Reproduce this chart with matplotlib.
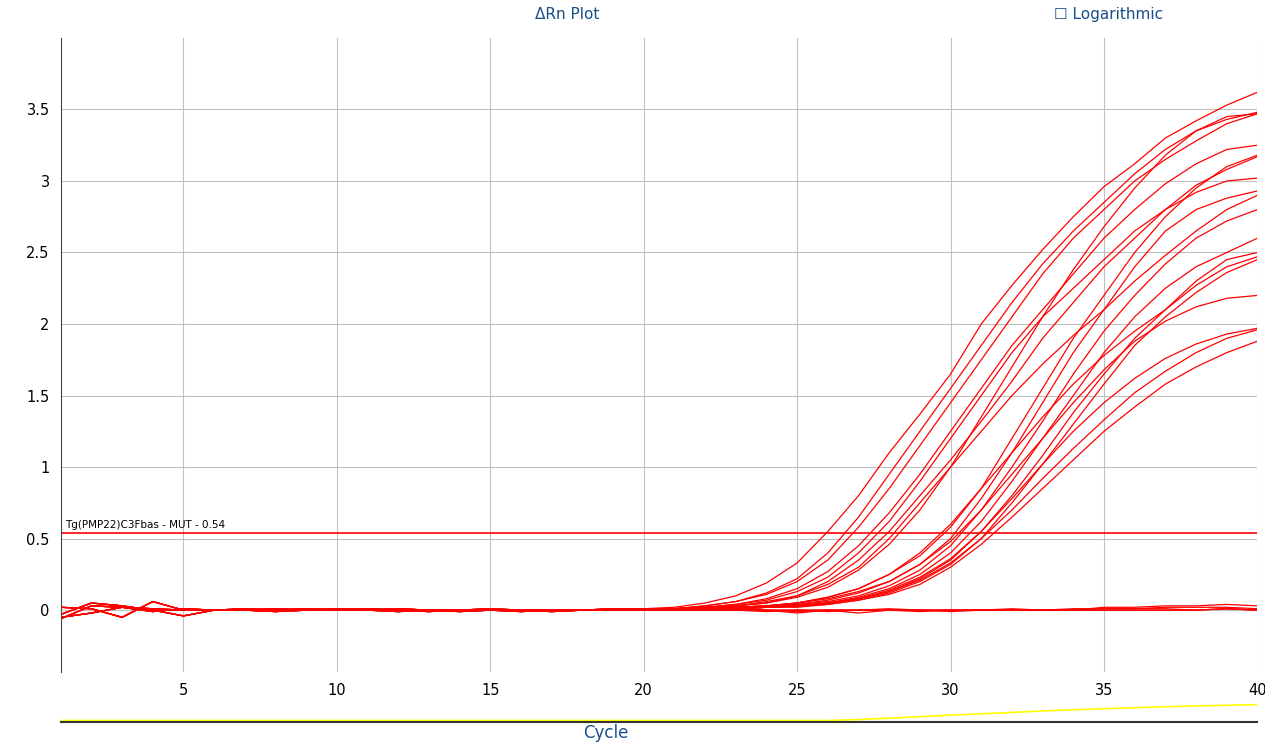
import matplotlib
matplotlib.use("Agg")
import matplotlib.pyplot as plt
import numpy as np

cycles = list(range(1, 41))
baselines = [
 [-0.05,-0.02,0.02,0.01,0.0,0.0,0.01,0.0,0.0,0.01,0.0,0.0,-0.01,0.0,0.0,0.0,-0.01,0.0,0.0,0.01],
 [-0.03,0.05,0.03,0.0,-0.04,0.0,0.0,0.01,0.0,0.0,0.01,0.0,0.0,-0.01,0.0,0.0,0.0,0.0,0.0,0.0],
 [0.02,0.01,-0.05,0.06,0.0,0.0,0.0,0.0,0.01,0.0,0.0,-0.01,0.0,0.0,0.01,0.0,0.0,0.0,0.01,0.0],
 [-0.06,0.03,0.02,-0.01,0.01,0.0,0.0,-0.01,0.0,0.0,0.0,0.01,0.0,0.0,0.0,-0.01,0.0,0.0,0.0,0.01],
]
amp_curves = [
 [.02,.05,.1,.19,.33,.55,.8,1.1,1.37,1.65,2.0,2.27,2.52,2.75,2.96,3.12,3.3,3.42,3.53,3.62],
 [.01,.03,.06,.12,.22,.4,.65,.95,1.25,1.55,1.85,2.15,2.42,2.65,2.85,3.05,3.22,3.35,3.43,3.48],
 [.01,.03,.06,.11,.2,.35,.58,.85,1.15,1.45,1.75,2.05,2.35,2.6,2.8,3.0,3.15,3.28,3.4,3.47],
 [.01,.02,.04,.08,.15,.27,.45,.68,.95,1.25,1.55,1.85,2.1,2.35,2.6,2.8,2.98,3.12,3.22,3.25],
 [.01,.02,.04,.07,.13,.23,.4,.62,.9,1.2,1.5,1.8,2.05,2.25,2.45,2.65,2.8,2.92,3.0,3.02],
 [.01,.02,.03,.06,.1,.2,.35,.55,.8,1.05,1.32,1.6,1.9,2.15,2.4,2.6,2.8,2.97,3.08,3.17],
 [.01,.02,.03,.05,.1,.18,.3,.5,.75,1.0,1.25,1.5,1.72,1.92,2.1,2.3,2.48,2.65,2.8,2.9],
 [.01,.02,.03,.05,.09,.16,.28,.46,.7,1.0,1.35,1.7,2.05,2.38,2.68,2.95,3.18,3.35,3.45,3.47],
 [0,.01,.02,.03,.05,.09,.15,.25,.38,.58,.85,1.2,1.55,1.9,2.2,2.5,2.75,2.95,3.1,3.18],
 [0,.01,.02,.03,.04,.07,.12,.2,.32,.5,.78,1.1,1.45,1.8,2.1,2.4,2.65,2.8,2.88,2.93],
 [0,.01,.01,.02,.04,.06,.1,.17,.28,.45,.7,1.0,1.32,1.65,1.95,2.2,2.42,2.6,2.72,2.80],
 [0,.01,.01,.02,.03,.05,.09,.15,.25,.4,.62,.9,1.2,1.5,1.8,2.05,2.25,2.4,2.5,2.60],
 [0,.01,.01,.02,.03,.05,.08,.13,.22,.35,.55,.8,1.08,1.38,1.65,1.9,2.1,2.27,2.4,2.47],
 [0,0,.01,.02,.03,.04,.07,.12,.2,.32,.5,.75,1.02,1.3,1.58,1.85,2.05,2.22,2.36,2.45],
 [0,.01,.02,.03,.05,.08,.13,.2,.32,.48,.7,.95,1.2,1.45,1.68,1.88,2.02,2.12,2.18,2.20],
 [0,.01,.02,.03,.05,.09,.15,.25,.4,.6,.85,1.1,1.35,1.58,1.78,1.95,2.1,2.3,2.45,2.50],
 [0,.01,.01,.02,.03,.05,.08,.14,.23,.36,.55,.78,1.02,1.25,1.45,1.62,1.76,1.86,1.93,1.97],
 [0,0,.01,.02,.03,.05,.08,.13,.21,.33,.5,.7,.92,1.13,1.33,1.52,1.67,1.8,1.9,1.96],
 [0,0,.01,.02,.02,.04,.07,.11,.18,.3,.46,.65,.85,1.05,1.25,1.42,1.58,1.7,1.8,1.88],
]
flat_curves = [
 [0,0,0.01,0,-0.01,0,0,0.01,0,0,0,0.01,0,0,0.02,0.02,0.03,0.03,0.04,0.03],
 [0,0,0,-0.01,0,0,-0.02,0,-0.01,0,0,0,0,0,0.01,0.01,0.02,0.02,0.02,0.01],
 [0,0.01,0,0,-0.02,0,0,0,0,0,0,0,0,0.01,0.01,0.01,0.01,0,0.01,0],
 [0,0,0,0,0,-0.01,0,0,0,-0.01,0,0,0,0,0,0,0,0,0.01,0],
 [0,0,0,0,0,0,0,0,0,0,0,0,0,0,0,0,0,0,0.01,0],
]
slider_curve = [0]*26 + [0.05, 0.12, 0.2, 0.28, 0.35, 0.42, 0.5, 0.56, 0.62, 0.67, 0.72, 0.76, 0.8, 0.83]
threshold = 0.54
threshold_label = "Tg(PMP22)C3Fbas - MUT - 0.54"

fig = plt.figure(figsize=(12.65, 7.43), dpi=100)
ax = fig.add_axes([0.048, 0.096, 0.946, 0.853])
for i, c in enumerate(amp_curves + flat_curves):
    ax.plot(cycles, baselines[i % 4] + c, color="red", lw=0.9)
ax.axhline(threshold, color="red", lw=1.2)
ax.text(1.15, threshold + 0.02, threshold_label, fontsize=7.5, va="bottom")
ax.set_xlim(1, 40)
ax.set_ylim(-0.43, 4.0)
ax.set_xticks([5, 10, 15, 20, 25, 30, 35, 40])
ax.set_yticks([0, 0.5, 1, 1.5, 2, 2.5, 3, 3.5])
ax.set_yticklabels(["0", "0.5", "1", "1.5", "2", "2.5", "3", "3.5"])
ax.grid(True, color="#c0c0c0", lw=0.8)
for s in ["top", "right", "bottom"]:
    ax.spines[s].set_visible(False)
ax.spines["left"].set_color("#444444")
ax.tick_params(length=0, labelsize=10.5, pad=8)

sl = fig.add_axes([0.048, 0.029, 0.946, 0.027])
sl.plot(cycles, slider_curve, color="yellow", lw=1.2)
sl.set_xlim(1, 40); sl.set_ylim(-0.05, 1)
sl.axis("off")
sl.plot([1, 40], [-0.1, -0.1], color="#333333", lw=1.5, clip_on=False)
fig.text(0.479, 0.002, "Cycle", fontsize=12, color="#1a4e8a", ha="center", va="bottom")
fig.text(0.448, 0.975, "ΔRn Plot", fontsize=11, color="#1a4e8a", ha="center")
fig.text(0.833, 0.975, "☐ Logarithmic", fontsize=11, color="#1a4e8a")
fig.savefig("out.png")
